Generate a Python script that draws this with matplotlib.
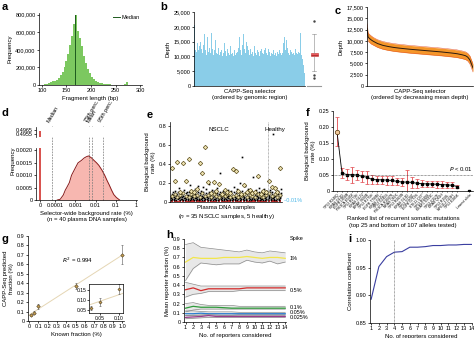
import numpy as np
import matplotlib
matplotlib.use("Agg")
import matplotlib.pyplot as plt
from matplotlib.ticker import FuncFormatter

plt.rcParams['font.family'] = ['Liberation Sans', 'DejaVu Sans']

# ---- a: fragment length histogram ----
a_left = list(range(100, 300, 4))
a_counts = [5, 8, 12, 18, 30, 45, 40, 55, 80, 110, 150, 200, 270, 350, 450, 560,
            700, 800, 620, 540, 440, 330, 250, 185, 135, 95, 70, 50, 35, 25, 18,
            13, 10, 8, 6, 5, 4, 3, 3, 2, 2, 2, 8, 30, 5, 1, 1, 1, 0, 0]
a_median = 167

# ---- b: depth across selector ----
b_depth = [20.5, 12.0, 11.5, 14.5, 12.0, 13.5, 11.0, 15.0, 12.5, 11.0, 14.0, 17.5, 12.0, 10.5,
           16.5, 11.5, 13.0, 11.0, 17.8, 12.5, 11.0, 10.5, 12.0, 15.5, 11.0, 10.8, 13.0, 10.5,
           11.5, 12.0, 10.2, 11.0, 14.5, 10.5, 11.8, 10.0, 12.5, 11.0, 10.5, 13.5, 10.8, 11.2,
           10.0, 12.0, 10.5, 11.0, 17.0, 11.5, 13.0, 16.5, 12.0, 10.5, 14.0, 17.5, 12.5, 11.0,
           15.0, 13.5, 12.0, 10.5, 11.0, 12.5, 10.8, 11.5, 10.2, 13.5, 11.0, 10.5, 12.0, 11.5,
           10.0, 11.8, 12.5, 10.5, 11.0, 10.8, 12.0, 13.0, 11.0, 10.5, 12.5, 11.5, 10.2, 11.0,
           10.8, 12.0, 11.5, 10.5, 11.0, 10.2, 11.5, 10.8, 12.0, 11.0, 10.5, 11.2, 14.5, 16.5,
           12.0, 15.5, 11.5, 13.0, 11.0, 10.5, 12.0, 11.5, 10.8, 11.0, 10.5, 12.5, 11.0, 10.8,
           11.5, 10.2, 11.0, 18.0, 10.5, 9.0, 7.0, 4.5]
b_box = dict(med=10600, q1=10100, q3=11300, whislo=5200, whishi=17600,
             fliers=[21800, 3800, 2600])

# ---- c: sorted mean depth ----
c_rank = [0, 1, 2, 4, 6, 8, 10, 15, 20, 25, 30, 40, 50, 60, 70, 80, 85, 90, 93, 95, 97, 98, 99, 100]
c_mean = [12800, 10900, 10600, 10200, 9900, 9650, 9400, 9000, 8750, 8550, 8400, 8150, 7950,
          7750, 7550, 7300, 7150, 6900, 6700, 6400, 5800, 5200, 4600, 4000]
c_spread = [1000, 950, 900, 900, 850, 850, 850, 850, 850, 850, 850, 850, 850, 850, 850, 850,
            850, 850, 850, 850, 900, 900, 900, 900]

# ---- d: background rate density ----
d_logx = [-3.9, -3.75, -3.6, -3.5, -3.43, -3.3, -3.19, -3.0, -2.87, -2.7, -2.56, -2.45, -2.35,
          -2.2, -2.08, -1.95, -1.84, -1.68, -1.55, -1.44, -1.32, -1.21, -1.1, -0.97, -0.81]
d_dens = [0.0, 0.00003, 0.0002, 0.0004, 0.0005, 0.0007, 0.001, 0.0013, 0.0015, 0.0016, 0.0017,
          0.00175, 0.00178, 0.0017, 0.0016, 0.0015, 0.0014, 0.0012, 0.001, 0.0008, 0.0006,
          0.0004, 0.00022, 0.0001, 0.0]
d_zero_pos = -4.76
d_zero_freq = 0.4963
d_stats = ["Median", "75th perc.", "Mean", "95th perc."]
d_stat_pos = [-4.18, -2.35, -2.2, -1.65]
d_ticks = [d_zero_pos, -4, -3, -2, -1, 0]
d_ticklabels = ["0", "0.0001", "0.001", "0.01", "0.1", "1"]

# ---- e: per-sample biological background ----
e_dots = [
    [.02, .04, .06, .08, .03, .05, .10, .07], [.03, .05, .02, .07, .09, .04, .12, .06],
    [.02, .06, .04, .08, .11, .03, .05, .15], [.04, .02, .07, .05, .09, .06, .03, .08],
    [.03, .05, .08, .02, .06, .10, .04, .13], [.02, .04, .06, .09, .05, .03, .07, .11],
    [.05, .03, .07, .02, .10, .06, .04, .18], [.02, .06, .04, .08, .03, .12, .05, .07],
    [.03, .05, .02, .09, .06, .04, .14, .08], [.04, .02, .06, .03, .08, .05, .17, .10],
    [.02, .05, .03, .07, .04, .09, .06, .12], [.03, .06, .04, .02, .08, .05, .11, .16],
    [.02, .04, .07, .05, .03, .09, .06, .14], [.05, .03, .02, .08, .06, .04, .11, .19],
    [.02, .06, .04, .03, .07, .05, .10, .13], [.04, .02, .05, .08, .03, .06, .12, .09],
    [.03, .05, .02, .06, .04, .09, .07, .15], [.02, .04, .06, .03, .08, .05, .10, .30],
    [.05, .03, .07, .04, .02, .06, .09, .12], [.02, .06, .03, .05, .08, .04, .11, .07],
    [.03, .02, .05, .07, .04, .10, .06, .13], [.04, .06, .02, .03, .08, .05, .12, .09],
    [.02, .04, .05, .07, .03, .06, .11, .16], [.03, .05, .02, .06, .09, .04, .08, .14],
    [.02, .03, .06, .04, .07, .05, .10, .20], [.04, .02, .05, .03, .08, .06, .12, .47],
    [.03, .06, .04, .02, .07, .05, .09, .17], [.02, .05, .03, .08, .04, .06, .11, .14],
    [.05, .02, .04, .06, .03, .09, .07, .12], [.02, .04, .06, .03, .08, .05, .10, .26],
    [.03, .05, .02, .07, .04, .06, .13, .09], [.02, .03, .06, .04, .08, .05, .11, .15],
    [.04, .02, .05, .07, .03, .09, .06, .12], [.03, .06, .02, .04, .08, .05, .10, .14],
    [.02, .04, .03, .06, .05, .07, .12, .09], [.03, .02, .05, .04, .07, .06, .10, .13],
    [.02, .05, .03, .06, .04, .08, .11, .72], [.04, .03, .02, .05, .07, .06, .09, .15],
    [.02, .04, .06, .03, .05, .08, .12, .10], [.03, .02, .05, .04, .06, .09, .07, .14]]
e_diam_hi = [0.36, 0.22, 0.42, 0.11, 0.41, 0.22, 0.45, 0.12, 0.10, 0.14, 0.41, 0.30, 0.58, 0.21,
             0.09, 0.21, 0.12, 0.19, 0.08, 0.13, 0.10, 0.09, 0.35, 0.33, 0.12, 0.08, 0.18, 0.10,
             0.13, 0.09, 0.11, 0.27, 0.08, 0.12, 0.10, 0.22, 0.16, 0.15, 0.10, 0.36]
e_diam_lo = [0.06, 0.08, 0.05, 0.07, 0.09, 0.06, 0.05, 0.08, 0.06, 0.07, 0.05, 0.09, 0.06, 0.07,
             0.05, 0.08, 0.06, 0.05, 0.07, 0.06, 0.08, 0.05, 0.06, 0.07, 0.05, 0.06, 0.08, 0.05,
             0.07, 0.06, 0.05, 0.08, 0.06, 0.05, 0.07, 0.09, 0.06, 0.08, 0.05, 0.07]
e_red = [0.010, 0.011, 0.009, 0.010, 0.012, 0.010, 0.009, 0.011, 0.010, 0.010, 0.011, 0.009,
         0.010, 0.012, 0.010, 0.009, 0.011, 0.010, 0.010, 0.009, 0.011, 0.010, 0.012, 0.010,
         0.009, 0.010, 0.011, 0.010, 0.009, 0.010, 0.011, 0.010, 0.010, 0.009, 0.011, 0.010,
         0.010, 0.011, 0.009, 0.010]
e_n_nsclc = 35

# ---- f: ranked recurrent mutations ----
f_labels = ["TP53 R248Q", "KRAS G12D", "EGFR L858R", "PIK3CA E545K", "TP53 R273H",
            "KRAS G12V", "BRAF V600E", "TP53 R175H", "EGFR T790M", "KRAS G12C",
            "TP53 G245S", "PIK3CA H1047R", "NRAS Q61K", "TP53 R282W", "KRAS G13D",
            "TP53 Y220C", "EGFR G719S", "STK11 Q37*", "TP53 R249S", "KEAP1 G333C",
            "TP53 V157F", "KRAS Q61H", "TP53 R158L", "NFE2L2 D29H", "TP53 E285K"]
f_vals = [0.185, 0.056, 0.051, 0.051, 0.050, 0.046, 0.043, 0.036, 0.035, 0.035, 0.034, 0.033,
          0.030, 0.028, 0.028, 0.027, 0.024, 0.023, 0.022, 0.022, 0.021, 0.020, 0.019, 0.018, 0.014]
f_err = [0.045, 0.015, 0.018, 0.025, 0.015, 0.018, 0.02, 0.015, 0.013, 0.012, 0.014, 0.013,
         0.012, 0.012, 0.038, 0.018, 0.015, 0.012, 0.01, 0.01, 0.011, 0.01, 0.009, 0.009, 0.006]
f_low_label = "Lowest allele"
f_low_val = 0.001
f_cut = 0.05

# ---- g: spike-in ----
g_known = [0.025, 0.05, 0.1, 0.5, 1.0]
g_pred = [0.06, 0.09, 0.155, 0.37, 0.70]
g_err = [0.01, 0.02, 0.025, 0.03, 0.1]

# ---- h: reporters ----
h_x = list(range(1, 15))
h_spikes = ["1%", "0.5%", "0.1%", "0.05%", "0.025%"]
h_colors = ["#f2e64b", "#d32a2a", "#2e9a3a", "#2c7fd0", "#9a3a8c"]
h_mean = [
    [0.65, 0.70, 0.69, 0.69, 0.69, 0.70, 0.70, 0.70, 0.71, 0.70, 0.69, 0.70, 0.70, 0.69],
    [0.35, 0.37, 0.34, 0.36, 0.36, 0.36, 0.36, 0.36, 0.37, 0.37, 0.37, 0.37, 0.37, 0.37],
    [0.15, 0.17, 0.16, 0.16, 0.16, 0.155, 0.15, 0.15, 0.15, 0.15, 0.15, 0.15, 0.15, 0.15],
    [0.09, 0.09, 0.095, 0.09, 0.09, 0.09, 0.09, 0.09, 0.09, 0.09, 0.09, 0.09, 0.09, 0.09],
    [0.05, 0.055, 0.06, 0.07, 0.06, 0.06, 0.06, 0.06, 0.06, 0.06, 0.06, 0.06, 0.06, 0.06]]
h_upper = [
    [0.84, 0.86, 0.81, 0.80, 0.79, 0.78, 0.77, 0.76, 0.78, 0.76, 0.75, 0.77, 0.76, 0.75],
    [0.43, 0.41, 0.39, 0.39, 0.39, 0.39, 0.39, 0.39, 0.39, 0.39, 0.39, 0.39, 0.39, 0.39],
    [0.20, 0.21, 0.19, 0.18, 0.18, 0.18, 0.18, 0.17, 0.17, 0.17, 0.17, 0.17, 0.17, 0.17],
    [0.12, 0.12, 0.115, 0.11, 0.11, 0.11, 0.11, 0.105, 0.105, 0.105, 0.105, 0.105, 0.105, 0.105],
    [0.07, 0.075, 0.075, 0.08, 0.075, 0.07, 0.07, 0.07, 0.07, 0.07, 0.07, 0.07, 0.07, 0.07]]
h_lower = [
    [0.45, 0.58, 0.64, 0.63, 0.62, 0.63, 0.63, 0.63, 0.67, 0.65, 0.64, 0.66, 0.63, 0.65],
    [0.27, 0.30, 0.31, 0.33, 0.33, 0.33, 0.33, 0.34, 0.34, 0.34, 0.34, 0.34, 0.34, 0.34],
    [0.11, 0.13, 0.14, 0.14, 0.14, 0.14, 0.14, 0.14, 0.14, 0.14, 0.14, 0.14, 0.14, 0.14],
    [0.07, 0.07, 0.075, 0.075, 0.075, 0.075, 0.075, 0.08, 0.08, 0.08, 0.08, 0.08, 0.08, 0.08],
    [0.035, 0.04, 0.045, 0.05, 0.05, 0.05, 0.05, 0.05, 0.05, 0.05, 0.05, 0.05, 0.05, 0.05]]
h_label_y = [0.69, 0.34, 0.157, 0.10, 0.044]

# ---- i: correlation ----
i_x = list(range(1, 15))
i_r = [0.893, 0.952, 0.970, 0.978, 0.979, 0.987, 0.987, 0.988, 0.990, 0.990, 0.991, 0.991,
       0.992, 0.992]

W, H = 474, 338
fig = plt.figure(figsize=(W / 100, H / 100), dpi=100)
TS = 4.0   # tick size
LS = 4.3   # label size


def px_ax(x0, y0, x1, y1):
    return fig.add_axes([x0 / W, 1 - y1 / H, (x1 - x0) / W, (y1 - y0) / H])


def style(ax):
    for s in ['top', 'right']:
        ax.spines[s].set_visible(False)
    for s in ['left', 'bottom']:
        ax.spines[s].set_linewidth(0.5)
    ax.tick_params(labelsize=TS, length=1.5, width=0.5, pad=1)


def letter(x, y, s):
    fig.text(x / W, 1 - y / H, s, fontsize=8, fontweight='bold', va='top', ha='left')


comma = FuncFormatter(lambda v, p: f"{int(v):,}")

# a
ax = px_ax(39, 13, 142, 85)
style(ax)
ax.bar(a_left, np.array(a_counts) * 1000, width=4, align='edge', color='#7cc860', linewidth=0)
ax.axvline(a_median, color='#1d5a1d', lw=0.7, ymax=800 / 820)
ax.set_xlim(94, 304)
ax.set_ylim(0, 820000)
ax.set_yticks([0, 200000, 400000, 600000, 800000])
ax.yaxis.set_major_formatter(comma)
ax.set_xticks([100, 150, 200, 250, 300])
ax.set_xlabel("Fragment length (bp)", fontsize=LS, labelpad=2)
ax.set_ylabel("Frequency", fontsize=LS, labelpad=2)
ax.plot([], [], color='#1d5a1d', lw=0.7, label='Median')
ax.legend(loc='upper right', fontsize=TS, frameon=False, handlelength=1.2,
          borderaxespad=0, handletextpad=0.3)
letter(2, 2, "a")

# b
ax = px_ax(194, 12, 305, 86)
style(ax)
ax.bar(range(len(b_depth)), np.array(b_depth) * 1000, width=1.0, color='#8acde8', linewidth=0)
ax.set_xlim(-0.5, len(b_depth) - 0.5)
ax.set_ylim(0, 25000)
ax.set_yticks([0, 5000, 10000, 15000, 20000, 25000])
ax.yaxis.set_major_formatter(comma)
ax.set_xticks([])
ax.set_xlabel("CAPP-Seq selector\n(ordered by genomic region)", fontsize=LS, labelpad=2,
              linespacing=1.3)
ax.set_ylabel("Depth", fontsize=LS, labelpad=2)
letter(160, 2, "b")

axb = px_ax(307, 12, 321, 86)
axb.bxp([b_box], positions=[0], widths=0.6, patch_artist=True, showfliers=True,
        boxprops=dict(facecolor='#ea5a5e', edgecolor='#c03030', lw=0.4),
        medianprops=dict(color='#a02020', lw=0.5),
        whiskerprops=dict(color='#888888', lw=0.4), capprops=dict(color='#888888', lw=0.4),
        flierprops=dict(marker='.', ms=1.5, mfc='#444444', mec='#444444'))
axb.set_ylim(0, 25000)
axb.set_xlim(-0.6, 0.6)
for s in ['top', 'right', 'left']:
    axb.spines[s].set_visible(False)
axb.spines['bottom'].set_color('#999999')
axb.spines['bottom'].set_linewidth(0.8)
axb.set_xticks([])
axb.set_yticks([])

# c
ax = px_ax(367, 7, 473, 86)
style(ax)
cm = np.array(c_mean)
cs = np.array(c_spread)
ax.fill_between(c_rank, cm - cs, cm + cs, color='#f5962a', linewidth=0)
ax.plot(c_rank, cm + cs, color='#e04a2a', lw=0.3)
ax.plot(c_rank, cm - cs, color='#e04a2a', lw=0.3)
ax.plot(c_rank, cm, color='#2a1a10', lw=0.7)
ax.set_xlim(0, 100)
ax.set_ylim(0, 17500)
ax.set_yticks([0, 2500, 5000, 7500, 10000, 12500, 15000, 17500])
ax.yaxis.set_major_formatter(comma)
ax.set_xticks([])
ax.set_xlabel("CAPP-Seq selector\n(ordered by decreasing mean depth)", fontsize=LS,
              labelpad=2, linespacing=1.3)
ax.set_ylabel("Depth", fontsize=LS, labelpad=2)
letter(335, 6, "c")

# d
ax = px_ax(36, 148, 137, 200)
style(ax)
ax.fill_between(d_logx, 0, d_dens, color='#f7b7b0', linewidth=0)
ax.plot(d_logx, d_dens, color='#8a1c1c', lw=0.7)
ax.plot([-4.95, d_logx[0]], [0, 0], color='#8a1c1c', lw=0.7)
ax.bar(d_zero_pos, 0.0021, width=0.07, color='#d9534f', linewidth=0)
ax.set_xlim(-4.95, 0.05)
ax.set_ylim(0, 0.0021)
ax.set_yticks([0, 0.0005, 0.001, 0.0015, 0.002])
ax.set_yticklabels(["0", "0.0005", "0.0010", "0.0015", "0.0020"])
ax.set_xticks(d_ticks)
ax.set_xticklabels(d_ticklabels)
ax.set_xlabel("Selector-wide background rate (%)\n(n = 40 plasma DNA samples)", fontsize=LS,
              labelpad=2, linespacing=1.3)
ax.set_ylabel("Frequency", fontsize=LS, labelpad=1)
ax.yaxis.set_label_coords(-0.2, 0.75)
for name, pos in zip(d_stats, d_stat_pos):
    ax.plot([pos, pos], [0, 1.45], transform=ax.get_xaxis_transform(), color='#777777',
            lw=0.5, ls=(0, (2.5, 1.5)), clip_on=False)
    ax.text(pos - 0.05, 1.48, name, transform=ax.get_xaxis_transform(), rotation=60,
            fontsize=TS, ha='left', va='bottom', rotation_mode='anchor')
axd2 = px_ax(36, 127, 137, 137)
axd2.bar(d_zero_pos, d_zero_freq, width=0.07, color='#d9534f', linewidth=0)
axd2.set_xlim(-4.95, 0.05)
axd2.set_ylim(0.49475, 0.49725)
for s in ['top', 'right', 'bottom']:
    axd2.spines[s].set_visible(False)
axd2.spines['left'].set_linewidth(0.5)
axd2.set_xticks([])
axd2.set_yticks([0.4955, 0.4965])
axd2.set_yticklabels(["0.4955", "0.4965"])
axd2.tick_params(labelsize=TS, length=1.5, width=0.5, pad=1)
letter(2, 108, "d")

# e
ax = px_ax(170, 122, 282, 202)
style(ax)
offs = np.linspace(-0.38, 0.38, 8)
for i, vals in enumerate(e_dots):
    ax.plot(i + 1 + offs, vals, 's', ms=1.2, color='black', mew=0)
ex = np.arange(1, len(e_diam_hi) + 1)
ax.plot(ex, e_diam_lo, 'D', ms=1.8, mfc='#eee3b0', mec='#5e5020', mew=0.4)
ax.plot(ex, e_diam_hi, 'D', ms=2.3, mfc='#eee3b0', mec='#5e5020', mew=0.5)
ax.bar(ex, np.array(e_red) * 1.6, width=0.85, color='#d63030', linewidth=0)
ax.axvline(e_n_nsclc + 0.5, color='#777777', lw=0.5, ls=(0, (1, 1)))
ax.text(18, 0.79, "NSCLC", fontsize=TS + 0.4, ha='center', va='top')
ax.text(38, 0.79, "Healthy", fontsize=TS + 0.4, ha='center', va='top')
ax.text(1.02, 0.012, "~0.01%", transform=ax.get_yaxis_transform(), color='#4db8e8',
        fontsize=TS, va='center', ha='left')
ax.set_xlim(0.3, 40.7)
ax.set_ylim(0, 0.842)
ax.set_yticks([0, 0.2, 0.4, 0.6, 0.8])
ax.set_yticklabels(["0", "0.2", "0.4", "0.6", "0.8"])
ax.set_xticks([])
ax.set_xlabel("Plasma DNA samples\n($n$ = 35 NSCLC samples, 5 healthy)", fontsize=LS,
              labelpad=2, linespacing=1.3)
ax.set_ylabel("Biological background\nrate (%)", fontsize=LS, labelpad=2, linespacing=1.2)
letter(147, 110, "e")

# f
ax = px_ax(333, 111, 473, 191)
style(ax)
fx = np.arange(1, len(f_vals) + 1)
ax.errorbar(fx, f_vals, yerr=f_err, fmt='none', ecolor='#e0474c', elinewidth=0.6,
            capsize=1.2, capthick=0.5)
ax.plot(fx, f_vals, '-s', color='black', ms=1.6, lw=0.6)
ax.plot(fx[0], f_vals[0], 'o', ms=3.2, mfc='#f0c99a', mec='#5a3a10', mew=0.5)
lowx = len(f_vals) + 2.5
ax.errorbar([lowx], [f_low_val], xerr=[[0.5], [0.5]], fmt='s', color='black', ms=1.6,
            elinewidth=0.6)
ax.axhline(f_cut, color='#444444', lw=0.5, ls=(0, (1, 1)))
ax.text(lowx + 0.6, f_cut + 0.005, "$P$ < 0.01", fontsize=TS + 0.3, ha='right', va='bottom')
ax.set_xlim(0.2, lowx + 0.7)
ax.set_ylim(0, 0.25)
ax.set_yticks([0, 0.05, 0.1, 0.15, 0.2, 0.25])
ax.set_yticklabels(["0", "0.05", "0.10", "0.15", "0.20", "0.25"])
ax.set_xticks(list(fx) + [lowx])
ax.set_xticklabels(f_labels + [f_low_label], rotation=45, ha='right', fontsize=2.4,
                   rotation_mode='anchor')
ax.tick_params(axis='x', length=1, pad=0.5)
ax.set_xlabel("Ranked list of recurrent somatic mutations\n(top 25 and bottom of 107 alleles tested)",
              fontsize=LS, labelpad=2, linespacing=1.3)
ax.set_ylabel("Biological background\nrate (%)", fontsize=LS, labelpad=2, linespacing=1.2)
letter(306, 108, "f")

# g
ax = px_ax(28, 236, 124, 321)
style(ax)
slope, icpt = np.polyfit(g_known, g_pred, 1)
ax.plot([0, 1.0], [icpt, icpt + slope], color='#e5d6b4', lw=0.7)
ax.errorbar(g_known, g_pred, yerr=g_err, fmt='D', ms=1.8, mfc='#c8a050', mec='#4a3a20',
            mew=0.4, ecolor='#555555', elinewidth=0.4, capsize=1, capthick=0.4)
ax.text(0.36, 0.64, "$R^2$ = 0.994", fontsize=TS + 0.3, va='center')
ax.set_xlim(-0.01, 1.02)
ax.set_ylim(0, 0.9)
ax.set_xticks(np.arange(0, 1.01, 0.1))
ax.set_xticklabels(["0"] + [f"{v:.1f}" for v in np.arange(0.1, 1.01, 0.1)])
ax.set_yticks(np.arange(0, 0.91, 0.1))
ax.set_yticklabels(["0"] + [f"{v:.1f}" for v in np.arange(0.1, 0.91, 0.1)])
ax.set_xlabel("Known fraction (%)", fontsize=LS, labelpad=1.5)
ax.set_ylabel("CAPP-Seq predicted\nfraction (%)", fontsize=LS, labelpad=2, linespacing=1.2)
ins = px_ax(89, 284, 123, 313)
ins.plot([0, 0.2], [icpt, icpt + slope * 0.2], color='#e5d6b4', lw=0.7)
ins.errorbar(g_known, g_pred, yerr=g_err, fmt='D', ms=1.6, mfc='#c8a050', mec='#4a3a20',
             mew=0.4, ecolor='#555555', elinewidth=0.4, capsize=1, capthick=0.4)
ins.set_xlim(0.02, 0.112)
ins.set_ylim(0.035, 0.18)
ins.set_xticks([0.05, 0.10])
ins.set_xticklabels(["0.05", "0.10"])
ins.set_yticks([0.05, 0.10, 0.15])
ins.set_yticklabels(["0.05", "0.10", "0.15"])
for s in ins.spines.values():
    s.set_linewidth(0.5)
ins.tick_params(labelsize=3.6, length=1.2, width=0.5, pad=0.8)
letter(2, 234, "g")

# h
ax = px_ax(184, 239, 286, 322)
style(ax)
for m, u, l, c in zip(h_mean, h_upper, h_lower, h_colors):
    ax.fill_between(h_x, l, u, color='#e8e8e8', linewidth=0)
    ax.plot(h_x, u, color='#8a8a8a', lw=0.5)
    ax.plot(h_x, l, color='#8a8a8a', lw=0.5)
    ax.plot(h_x, m, color=c, lw=0.9)
ax.text(14.6, 0.90, "Spike", fontsize=TS, va='center')
for lab, y in zip(h_spikes, h_label_y):
    ax.text(14.6, y, lab, fontsize=TS, va='center')
ax.set_xlim(0.8, 14.1)
ax.set_ylim(0, 0.9)
ax.set_xticks(h_x)
ax.set_yticks(np.arange(0, 0.91, 0.1))
ax.set_yticklabels(["0"] + [f"{v:.1f}" for v in np.arange(0.1, 0.91, 0.1)])
ax.set_xlabel("No. of reporters considered", fontsize=LS, labelpad=1.5)
ax.set_ylabel("Mean reporter fraction (%)", fontsize=LS, labelpad=2)
letter(166, 230, "h")

# i
ax = px_ax(370, 240, 472, 323)
style(ax)
ax.plot(i_x, i_r, color='#3a3ea0', lw=0.8)
ax.axvline(4, color='#555555', lw=0.5, ls=(0, (1, 1)))
ax.set_xlim(0.85, 14.05)
ax.set_ylim(0.85, 1.0)
ax.set_xticks(i_x)
ax.set_yticks([0.85, 0.90, 0.95, 1.00])
ax.set_yticklabels(["0.85", "0.90", "0.95", "1.00"])
ax.set_xlabel("No. of reporters considered", fontsize=LS, labelpad=1.5)
ax.set_ylabel("Correlation coefficient", fontsize=LS, labelpad=2)
letter(348, 234, "i")

fig.savefig("out.png", dpi=100)
